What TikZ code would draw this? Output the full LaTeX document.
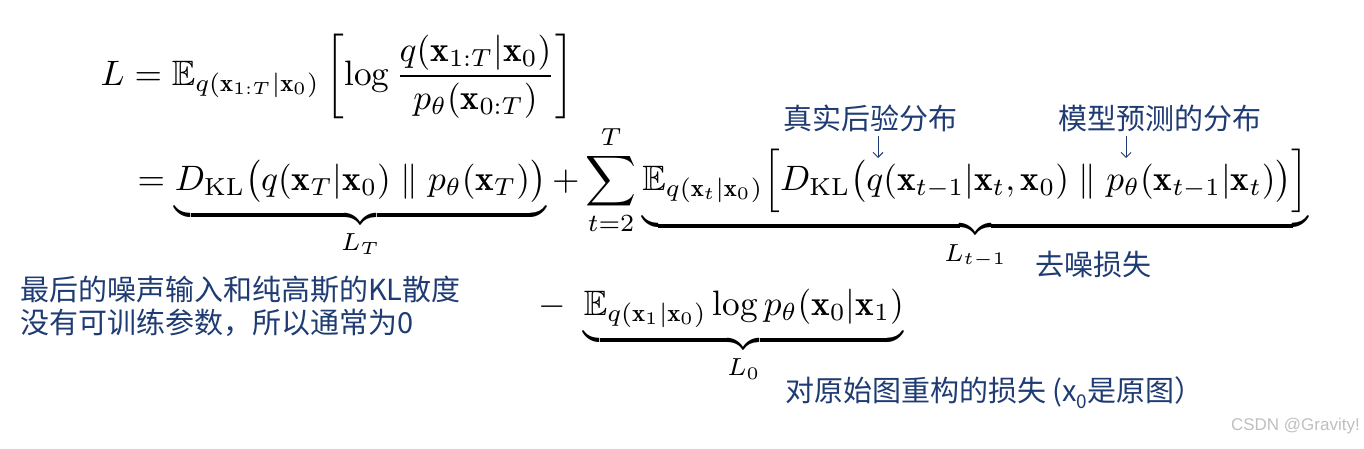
\documentclass[tikz,border=0pt]{standalone}
\usepackage{amsmath,amssymb}
\usepackage{fontspec}
\newfontfamily\cjk{Noto Sans CJK SC}
\usetikzlibrary{arrows.meta}
\definecolor{navy}{HTML}{1F3B73}
\begin{document}
\begin{tikzpicture}[x=1pt,y=-1pt,
  eq/.style={anchor=base west,inner sep=0pt,font=\fontsize{10}{12}\selectfont,scale=3.53,transform shape},
  ann/.style={text=navy,inner sep=0pt,font=\fontsize{29}{33}\selectfont\cjk},
  arr/.style={navy,-{Straight Barb[length=5pt]},line width=0.9pt}]
\useasboundingbox (0,0) rectangle (1364,448);
\node[eq] (l1) at (100,85) {$L = \mathbb{E}_{q(\mathbf{x}_{1:T}|\mathbf{x}_0)}\left[\log\dfrac{q(\mathbf{x}_{1:T}|\mathbf{x}_0)}{p_\theta(\mathbf{x}_{0:T})}\right]$};
\node[eq] (l2) at (137,190) {$= \underbrace{D_{\mathrm{KL}}\big(q(\mathbf{x}_T|\mathbf{x}_0)\parallel p_\theta(\mathbf{x}_T)\big)}_{L_T} + \displaystyle\sum_{t=2}^{T}\underbrace{\mathbb{E}_{q(\mathbf{x}_t|\mathbf{x}_0)}\Big[D_{\mathrm{KL}}\big(q(\mathbf{x}_{t-1}|\mathbf{x}_t,\mathbf{x}_0)\parallel p_\theta(\mathbf{x}_{t-1}|\mathbf{x}_t)\big)\Big]}_{L_{t-1}}$};
\node[eq] (l3) at (538,315) {$-\ \underbrace{\mathbb{E}_{q(\mathbf{x}_1|\mathbf{x}_0)}\log p_\theta(\mathbf{x}_0|\mathbf{x}_1)}_{L_0}$};
\node[ann] (a1) at (870,118) {真实后验分布};
\node[ann] (a2) at (1160,118) {模型预测的分布};
\coordinate (t1) at (878,158); \coordinate (t2) at (1126,158);
\draw[arr] (878,136) -- (t1);
\draw[arr] (1126,136) -- (t2);
\node[ann] (a3) at (1093,265) {去噪损失};
\node[ann,anchor=west,align=left] (a4) at (20,306) {最后的噪声输入和纯高斯的KL散度\\没有可训练参数，所以通常为0};
\node[ann,anchor=west] (a5) at (785,393) {对原始图重构的损失 (x\raisebox{-0.25em}{\fontsize{19}{21}\selectfont 0}是原图）};
\node[text=gray!50,inner sep=0pt,anchor=east,font=\fontsize{17}{20}\selectfont\fontspec{Liberation Sans}] (w) at (1360,426) {CSDN @Gravity!};
\end{tikzpicture}
\end{document}
